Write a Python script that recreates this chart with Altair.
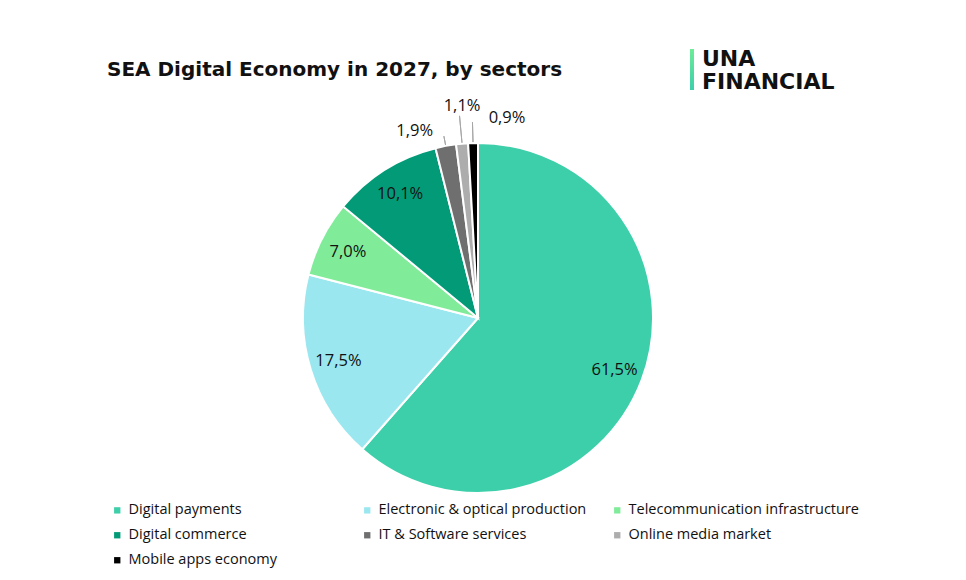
import altair as alt
import pandas as pd

sectors = ["Digital payments", "Electronic & optical production", "Telecommunication infrastructure",
           "Digital commerce", "IT & Software services", "Online media market", "Mobile apps economy"]
shares = [61.5, 17.5, 7.0, 10.1, 1.9, 1.1, 0.9]
labels = ["61,5%", "17,5%", "7,0%", "10,1%", "1,9%", "1,1%", "0,9%"]
colors = ["#3DCFAA", "#9BE7EF", "#80EC9A", "#039B77", "#6F6F6F", "#ADADAD", "#000000"]

df = pd.DataFrame({"sector": sectors, "share": shares, "label": labels, "idx": list(range(len(sectors)))})
one = pd.DataFrame({"a": [0]})

FONT = "Open Sans"
CX, CY, R = 478, 238, 175

base = alt.Chart(df).encode(
    theta=alt.Theta("share:Q", stack=True),
    order=alt.Order("idx:Q"),
    x=alt.value(CX),
    y=alt.value(CY),
)

pie = base.mark_arc(outerRadius=R, stroke="white", strokeWidth=2).encode(
    color=alt.Color(
        "sector:N",
        scale=alt.Scale(domain=sectors, range=colors),
        legend=alt.Legend(
            orient="none", legendX=110, legendY=423, columns=3, gridAlign="all", direction="horizontal",
            symbolType="square", symbolSize=40, symbolStrokeWidth=0,
            labelFont=FONT, labelFontSize=14.5, labelColor="#111111", labelLimit=300,
            rowPadding=10, columnPadding=1, title=None, labelOffset=4,
        ),
    )
)

inner = base.mark_text(radius=146, font=FONT, fontSize=16.5, color="#111111").encode(
    text=alt.condition("datum.share >= 5", "label:N", alt.value(""))
)

outer_specs = [
    ("IT & Software services", -31, -15, 185),
    ("Online media market", 0, -38, 203),
    ("Mobile apps economy", 34, -25, 196),
]
layers = [pie, inner]
for cat, dx, dy, rout in outer_specs:
    layers.append(
        base.mark_text(radius=R, dx=dx, dy=dy, font=FONT, fontSize=16.5, color="#111111").encode(
            text=alt.condition(f"datum.sector == '{cat}'", "label:N", alt.value(""))
        )
    )

lines_base = (
    alt.Chart(df)
    .transform_joinaggregate(total="sum(share)")
    .transform_window(cum="sum(share)", sort=[alt.SortField("idx")], frame=[None, 0])
    .transform_calculate(mid="(datum.cum - datum.share/2)/datum.total*2*PI")
)
for cat, dx, dy, rout in outer_specs:
    layers.append(
        lines_base.transform_filter(f"datum.sector == '{cat}'")
        .mark_arc(radius=rout, radius2=R + 1, stroke="#A6A6A6", strokeWidth=1, fillOpacity=0)
        .encode(
            theta=alt.Theta("mid:Q", scale=None),
            theta2=alt.Theta2("mid:Q"),
            x=alt.value(CX),
            y=alt.value(CY),
        )
    )

logo_bar = alt.Chart(one).mark_rect(
    fill=alt.Gradient(
        gradient="linear",
        stops=[alt.GradientStop(color="#6DEB98", offset=0), alt.GradientStop(color="#3CCFAB", offset=1)],
        x1=0, x2=0, y1=0, y2=1,
    )
).encode(x=alt.value(690), x2=alt.value(694), y=alt.value(-31), y2=alt.value(10))

LOGO_FONT = "DejaVu Sans"
logo_una = alt.Chart(one).mark_text(
    text="UNA", align="left", baseline="alphabetic", font=LOGO_FONT, fontWeight="bold", fontSize=22, color="#111111"
).encode(x=alt.value(702), y=alt.value(-14))
logo_fin = alt.Chart(one).mark_text(
    text="FINANCIAL", align="left", baseline="alphabetic", font=LOGO_FONT, fontWeight="bold", fontSize=22, color="#111111"
).encode(x=alt.value(702), y=alt.value(9))

layers += [logo_bar, logo_una, logo_fin]

chart = (
    alt.layer(*layers)
    .resolve_scale(theta="independent")
    .properties(
        width=966,
        height=500,
        padding={"left": 0, "top": 80, "right": 0, "bottom": 0},
        autosize=alt.AutoSizeParams(type="none"),
        title=alt.Title(
            "SEA Digital Economy in 2027, by sectors",
            anchor="start", frame="group", dx=107, offset=3, dy=35,
            font="DejaVu Sans", fontSize=20, fontWeight="bold", color="#111111",
        ),
    )
    .configure_view(stroke=None)
)

chart.save("out.html", embed_options={"renderer": "svg", "actions": False})
